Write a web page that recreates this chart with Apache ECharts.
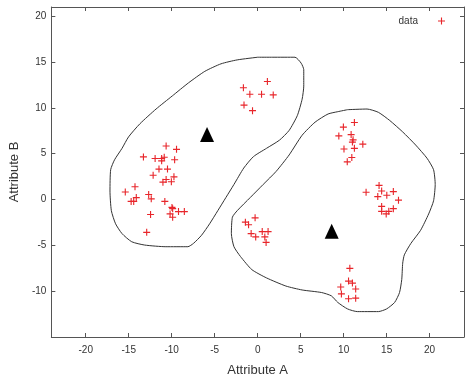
<!DOCTYPE html>
<html>
<head>
<meta charset="utf-8">
<script src="https://cdn.jsdelivr.net/npm/echarts@6/dist/echarts.min.js"></script>
<style>html,body{margin:0;padding:0;background:#fff}#c{width:474px;height:382px}</style>
</head>
<body>
<div id="c"></div>
<script>
const xTicks = [-20, -15, -10, -5, 0, 5, 10, 15, 20];
const yTicks = [-10, -5, 0, 5, 10, 15, 20];

const pointsLeft = [
  [-15.40, 0.82], [-14.72, -0.21], [-14.42, -0.21], [-14.27, 1.39], [-14.12, 0.21],
  [-13.29, 4.65], [-12.91, -3.58], [-12.68, 0.54], [-12.38, 0.07], [-12.46, -1.64],
  [-12.16, 2.65], [-11.93, 4.47], [-11.48, 3.32], [-11.17, 4.47], [-11.17, 4.22],
  [-11.02, 1.89], [-10.87, 4.61], [-10.80, -0.21], [-10.65, 5.83], [-10.65, 2.18],
  [-10.49, 3.32], [-10.04, 1.93], [-9.97, -0.86], [-9.89, -1.00], [-10.19, -1.57],
  [-9.89, -1.93], [-9.74, 2.47], [-9.66, 4.33], [-9.44, 5.47], [-9.21, -1.32],
  [-8.53, -1.32]
];
const pointsTop = [
  [-1.66, 12.19], [-0.91, 11.48], [-1.59, 10.30], [-0.60, 9.69], [0.45, 11.48],
  [1.13, 12.87], [1.81, 11.41]
];
const pointsMid = [
  [-1.43, -2.47], [-1.06, -2.75], [-0.30, -2.00], [-0.76, -3.72], [-0.23, -4.08],
  [0.53, -3.50], [1.21, -3.50], [0.83, -4.08], [0.98, -4.68]
];
const pointsUpperRight = [
  [11.25, 8.40], [9.97, 7.90], [9.44, 6.94], [10.87, 7.08], [11.10, 6.51],
  [11.02, 6.26], [12.23, 6.04], [10.04, 5.51], [11.25, 5.58], [10.95, 4.58],
  [10.42, 4.11]
];
const pointsRight = [
  [14.12, 1.54], [14.42, 0.93], [12.61, 0.79], [15.78, 0.86], [13.97, 0.32],
  [15.02, 0.46], [16.38, -0.07], [14.42, -0.75], [15.78, -1.00], [14.42, -1.29],
  [15.25, -1.29], [14.95, -1.57]
];
const pointsLowerRight = [
  [10.72, -7.51], [10.57, -8.90], [11.02, -9.12], [9.66, -9.55], [11.40, -9.76],
  [9.74, -10.30], [10.57, -10.83], [11.40, -10.76]
];
const centroids = [[-5.89, 7.08], [8.61, -3.47]];

const boundaryLeft = [
  [0, 15.52], [1.77, 15.52], [4.34, 15.52], [5.06, 14.87], [5.36, 14.16], [5.36, 12.37],
  [5.17, 10.94], [4.61, 9.15], [3.66, 7.54], [2.53, 6.47], [1.02, 5.58], [-0.49, 4.68],
  [-1.62, 3.43], [-2.76, 1.64], [-3.70, 0.21], [-4.64, -1.22], [-5.59, -2.65],
  [-6.53, -3.90], [-7.47, -4.79], [-8.12, -5.15], [-10.68, -5.15], [-13.14, -4.97],
  [-14.65, -4.61], [-15.78, -3.72], [-16.53, -2.65], [-17.02, -1.22], [-17.18, 0.93],
  [-17.10, 3.25], [-16.65, 4.33], [-15.78, 5.58], [-15.02, 6.83], [-13.70, 8.26],
  [-11.82, 9.87], [-9.93, 11.30], [-8.04, 12.73], [-6.15, 13.98], [-4.27, 14.80],
  [-2.38, 15.23], [0, 15.52]
];
const boundaryRight = [
  [10.46, 9.80], [12.72, 9.87], [14.04, 9.51], [15.36, 8.62], [16.87, 7.37], [18.38, 5.94],
  [19.70, 4.50], [20.46, 3.25], [20.65, 1.64], [20.46, -0.14], [19.89, -1.57],
  [18.95, -3.36], [17.82, -4.79], [17.06, -6.04], [16.87, -6.94], [16.76, -8.72],
  [16.50, -10.15], [15.93, -11.23], [14.99, -11.94], [14.04, -12.23], [11.59, -12.23],
  [10.46, -11.94], [9.32, -11.23], [8.57, -10.51], [7.44, -10.15], [5.17, -9.87],
  [3.28, -9.44], [1.02, -8.55], [-0.68, -7.65], [-2.00, -6.22], [-2.76, -5.15],
  [-3.06, -3.72], [-2.94, -1.93], [-2.38, -1.22], [-0.87, 0.21], [0.64, 1.64],
  [2.15, 3.07], [3.66, 4.86], [5.17, 7.01], [6.68, 8.44], [8.19, 9.33], [9.32, 9.58],
  [10.46, 9.80]
];

const allPoints = [].concat(pointsLeft, pointsTop, pointsMid, pointsUpperRight, pointsRight, pointsLowerRight);

const plusPath = 'path://M4.2,0h1.6v4.2h4.2v1.6h-4.2v4.2h-1.6v-4.2h-4.2v-1.6h4.2z';
const red = '#e8262b';
const frame = '#555';
const font = 'Liberation Sans';

const chart = echarts.init(document.getElementById('c'), null, { renderer: 'canvas' });

function xAx(pos, showLabel) {
  return {
    type: 'value', position: pos, min: -24, max: 24,
    name: showLabel ? 'Attribute A' : '', nameLocation: 'middle', nameGap: 27,
    nameTextStyle: { fontFamily: font, fontSize: 13, color: '#333' },
    axisLine: { show: true, onZero: false, lineStyle: { color: frame, width: 1 } },
    axisTick: { show: true, inside: true, length: 4, customValues: xTicks, lineStyle: { color: frame } },
    axisLabel: { show: showLabel, customValues: xTicks, fontFamily: font, fontSize: 10, color: '#333', margin: 8 },
    splitLine: { show: false }
  };
}
function yAx(pos, showLabel) {
  return {
    type: 'value', position: pos, min: -15, max: 21,
    name: showLabel ? 'Attribute B' : '', nameLocation: 'middle', nameGap: 30,
    nameTextStyle: { fontFamily: font, fontSize: 13, color: '#333' },
    axisLine: { show: true, onZero: false, lineStyle: { color: frame, width: 1 } },
    axisTick: { show: true, inside: true, length: 4, customValues: yTicks, lineStyle: { color: frame } },
    axisLabel: { show: showLabel, customValues: yTicks, fontFamily: font, fontSize: 10, color: '#333', margin: 5 },
    splitLine: { show: false }
  };
}

chart.setOption({
  animation: false,
  backgroundColor: '#fff',
  grid: { left: 43, right: 10, top: 7, bottom: 41, containLabel: false },
  legend: {
    data: ['data'], right: 24, top: 11, align: 'right',
    itemWidth: 7, itemHeight: 7, icon: plusPath,
    itemStyle: { color: red, opacity: 1 },
    textStyle: { fontFamily: font, fontSize: 10, color: '#333', padding: [0, 15, 0, 0] }
  },
  xAxis: [xAx('bottom', true), xAx('top', false)],
  yAxis: [yAx('left', true), yAx('right', false)],
  series: [
    {
      name: 'boundaryLeft', type: 'line', data: boundaryLeft, symbol: 'none', silent: true,
      smooth: 0.2, lineStyle: { color: '#333', width: 1 }, z: 1
    },
    {
      name: 'boundaryRight', type: 'line', data: boundaryRight, symbol: 'none', silent: true,
      smooth: 0.2, lineStyle: { color: '#333', width: 1 }, z: 1
    },
    {
      name: 'data', type: 'scatter', data: allPoints, symbol: plusPath, symbolSize: 7,
      itemStyle: { color: red, opacity: 1 }, z: 3
    },
    {
      name: 'centroids', type: 'scatter', data: centroids, symbol: 'triangle', symbolSize: [14, 15],
      itemStyle: { color: '#000', opacity: 1 }, z: 4
    }
  ]
});
</script>
</body>
</html>
